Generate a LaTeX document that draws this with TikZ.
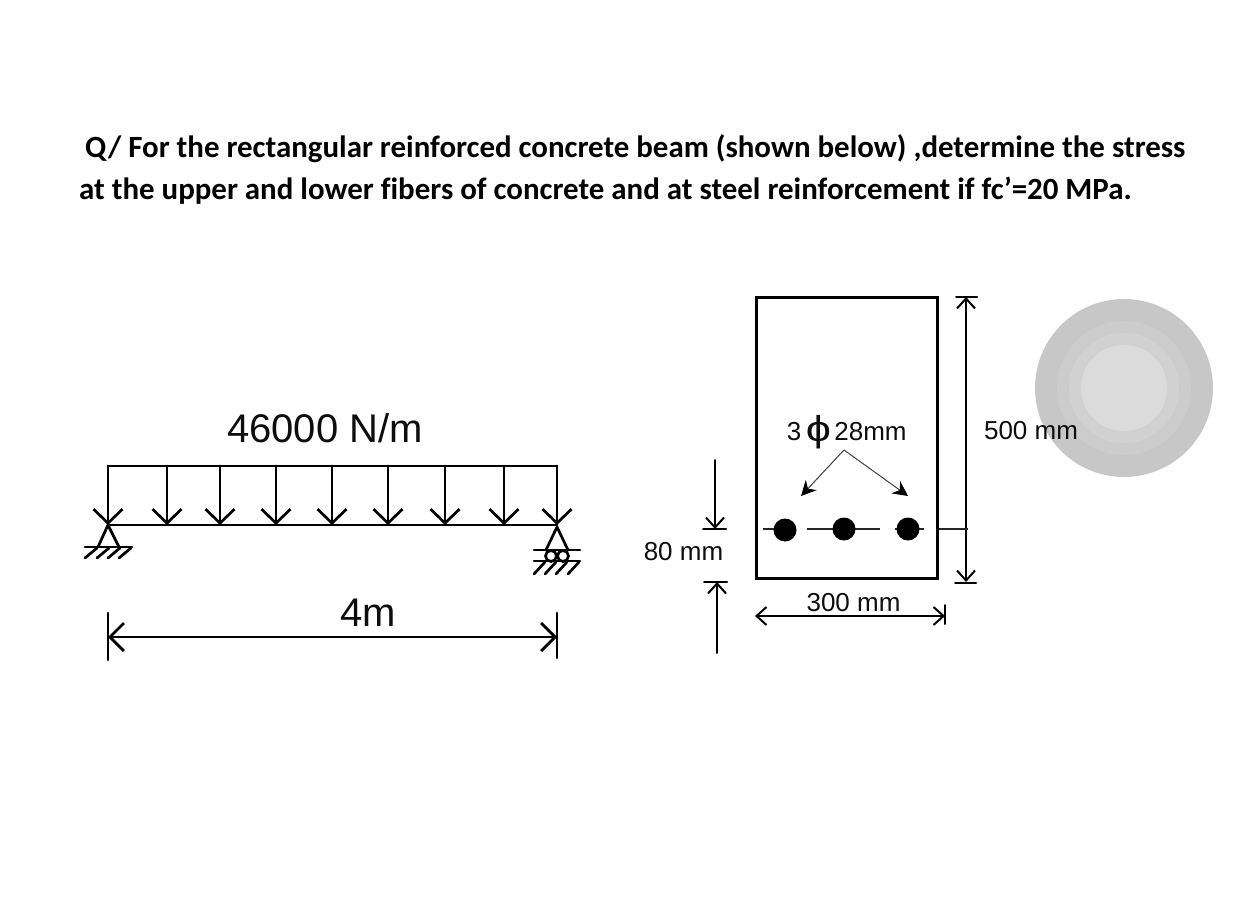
\documentclass[tikz,border=0pt]{standalone}
\usepackage{fontspec}
\setmainfont{Liberation Sans}
\newfontfamily\titlefont[Ligatures=NoCommon]{Carlito}
\usetikzlibrary{arrows.meta}
\tikzset{
  bm/.style={line width=2.7pt,black,line cap=round},
  dm/.style={line width=2pt,black,line cap=round},
  load/.style={bm,-{Straight Barb[length=14pt,width=29pt,line width=2.7pt]}},
  dimtip/.style={dm,-{Straight Barb[length=10pt,width=18pt,line width=2pt]}},
  dimtiph/.style={bm,-{Straight Barb[length=14pt,width=28pt,line width=2.7pt]}},
  thin arrow/.style={line width=1pt,black!75,-{Stealth[length=15pt,width=15pt,black]}},
  lbl/.style={inner sep=0pt,text=black!95},
  ttl/.style={inner sep=0pt,anchor=west,font=\titlefont\bfseries\fontsize{30.9}{34}\selectfont},
  bar/.style={circle,fill=black,inner sep=0pt,minimum size=23pt}
}
\begin{document}
\begin{tikzpicture}[x=1pt,y=-1pt]
\useasboundingbox (0,0) rectangle (1241,909);
\fill[white] (0,0) rectangle (1241,909);
% blob
\fill[black!22] (1124,388) circle (89);
\fill[black!20] (1124,388) circle (67);
\fill[black!18] (1124,388) circle (55);
\fill[black!14] (1124,388) circle (43);
% title
\node[ttl] (t1) at (85,149) {Q/ For the rectangular reinforced concrete beam (shown below) ,determine the stress};
\node[ttl] (t2) at (79,190.5) {at the upper and lower fibers of concrete and at steel reinforcement if fc’=20 MPa.};
% beam
\draw[bm] (108,466) -- (557,466);
\draw[bm] (108,525) -- (557,525);
\foreach \x in {108,167,220,276,332,388,445,504,557}
  \draw[load] (\x,466) -- (\x,525);
% left support
\draw[bm] (98,547) -- (108,525) -- (119,547);
\draw[bm] (85,547) -- (132,547);
\foreach \x in {85,97,108,119} \draw[bm] (\x,558) -- (\x+12,548);
% right support
\draw[bm] (546,550) -- (557,527) -- (568,550);
\draw[bm] (534,550) -- (580,550);
\draw[bm] (534,561) -- (580,561);
\draw[bm] (551,556) circle (5.5);
\draw[bm] (563,556) circle (5.5);
\foreach \x in {534,545,556,568} \draw[bm] (\x,574) -- (\x+11,562);
% 4m dim
\draw[bm] (108,613) -- (108,660);
\draw[bm] (557,613) -- (557,658);
\draw[dimtiph] (330,637) -- (108,637);
\draw[dimtiph] (330,637) -- (557,637);
% labels
\node[lbl,font=\fontsize{40}{44}\selectfont] (load) at (325,428) {46000 N/m};
\node[lbl,font=\fontsize{40}{44}\selectfont] (span) at (368,613) {4m};
\node[lbl,font=\fontsize{26}{30}\selectfont] (c80) at (683.5,552) {80 mm};
\node[lbl,font=\fontsize{26}{30}\selectfont] (w300) at (853.5,603) {300 mm};
\node[lbl,font=\fontsize{26}{30}\selectfont] (h500) at (1031,431) {500 mm};
% 80 mm dim
\draw[dimtip] (715,460) -- (715,529);
\draw[dm] (703,529) -- (726,529);
\draw[dimtip] (717,653) -- (717,582);
\draw[dm] (704,582) -- (727,582);
% section
\draw[line width=3pt,black,line join=miter] (756,297) rectangle (937,578.5);
% 500 dim
\draw[dimtip] (966,440) -- (966,297);
\draw[dimtip] (966,440) -- (966,582);
\draw[dm] (956,297) -- (977,297);
\draw[dm] (955,583) -- (976,583);
\draw[line width=1.6pt,black!85] (939,529) -- (968,529);
% 300 dim
\draw[dimtip] (850,616) -- (755,616);
\draw[dimtip] (850,616) -- (945,616);
\draw[dm] (945,605) -- (945,624);
\node[lbl,font=\fontsize{26}{30}\selectfont] (c3) at (794,432) {3};
\node[lbl,font=\fontsize{36}{40}\selectfont,xscale=1.25] (phi) at (818.5,432.5) {ϕ};
\node[lbl,font=\fontsize{26}{30}\selectfont] (c28) at (870.5,432) {28mm};
% bars
\draw[line width=1.6pt,black!85] (763,529) -- (785,529);
\draw[line width=1.6pt,black!85] (807,529) -- (880,529);
\draw[line width=1.6pt,black!85] (895,529) -- (924,529);
\node[bar] (b1) at (785,530) {};
\node[bar] (b2) at (844,529) {};
\node[bar] (b3) at (908,529) {};
\coordinate (apex) at (844,450);
\coordinate (la) at (801,496);
\coordinate (ra) at (908,496);
\draw[thin arrow] (apex) -- (la);
\draw[thin arrow] (apex) -- (ra);
\end{tikzpicture}
\end{document}
